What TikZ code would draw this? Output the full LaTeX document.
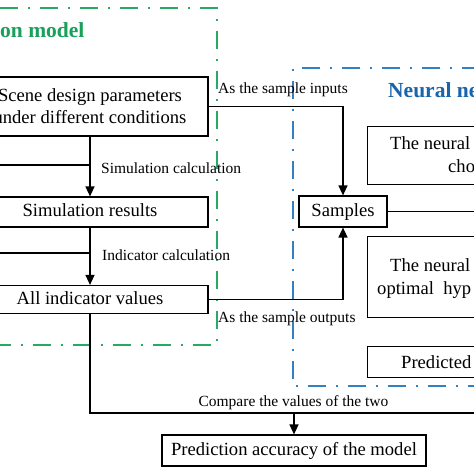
\documentclass[tikz,border=0pt]{standalone}
\usepackage{fontspec}
\setmainfont{Liberation Serif}
\usetikzlibrary{arrows.meta}
\definecolor{gframe}{RGB}{40,170,100}
\definecolor{gtitle}{RGB}{25,160,90}
\definecolor{bframe}{RGB}{50,130,195}
\definecolor{btitle}{RGB}{25,100,170}
\begin{document}
\begin{tikzpicture}[x=1pt,y=-1pt,
  boxbase/.style={draw,line width=1.2pt,inner sep=0pt,font=\fontsize{18.6}{22}\selectfont},
  box/.style={boxbase,text height=13pt,text depth=3.7pt},
  lbl/.style={font=\fontsize{15.5}{18}\selectfont,inner sep=0pt,anchor=base west},
  conn/.style={line width=1.4pt},
  arr/.style={conn,-{Triangle[length=10pt,width=9pt]}},
  frame/.style={line width=2pt,dash pattern=on 18pt off 10pt on 2pt off 10pt},
  ttl/.style={font=\fontsize{21.5}{24}\selectfont\bfseries,inner sep=0pt,anchor=base west},
  rtxt/.style={font=\fontsize{18.6}{22}\selectfont,inner sep=0pt,anchor=base west}]
\useasboundingbox (0,0) rectangle (474,474);
\clip (0,0) rectangle (474,474);
\fill[white] (0,0) rectangle (474,474);
% frames
\draw[frame,gframe] (-40,8) -- (217,8) -- (217,345) -- (-40,345);
\draw[frame,bframe] (520,68) -- (293,68) -- (293,386) -- (520,386);
\node[ttl,text=gtitle] (t1) at (0,37) {on model};
\node[ttl,text=btitle] (t2) at (388,97) {Neural ne};
% left column
\node[boxbase,minimum width=236pt,minimum height=59pt,align=center] (scene) at (90,106.5) {Scene design parameters\\under different conditions};
\node[box,minimum width=236pt,minimum height=30pt] (res) at (90,212) {Simulation results};
\node[box,minimum width=236pt,minimum height=28pt] (ind) at (90,299.5) {All indicator values};
% samples and prediction
\node[box,minimum width=88pt,minimum height=31pt] (samp) at (343,211.5) {Samples};
\node[box,minimum width=264pt,minimum height=31pt] (pred) at (294,450.5) {Prediction accuracy of the model};
% right boxes
\node[box,minimum width=200pt,minimum height=58pt,anchor=north west] (nn1) at (367,126) {};
\node[box,minimum width=200pt,minimum height=81pt,anchor=north west] (nn2) at (367,236) {};
\node[box,minimum width=200pt,minimum height=31pt,anchor=north west] (nn3) at (367,346) {};
\node[rtxt] (nn1a) at (390,149.5) {The neural};
\node[rtxt] (nn1b) at (448,172) {cho};
\node[rtxt] (nn2a) at (390,271) {The neural};
\node[rtxt] (nn2b) at (377,294) {optimal~ hyp};
\node[rtxt] (nn3a) at (401,368) {Predicted};
% connectors
\draw[arr] (scene.south) -- (res.north);
\draw[arr] (res.south) -- (ind.north);
\coordinate (inA) at (-40,165);
\draw[conn] (inA) -- (inA -| scene.south);
\coordinate (inB) at (-40,253);
\draw[conn] (inB) -- (inB -| res.south);
\draw[arr] (scene.east) -| (samp.north);
\draw[arr] (ind.east) -| (samp.south);
\coordinate (sampR) at (500,211.5);
\draw[conn] (samp.east) -- (sampR);
\coordinate (cmpR) at (500,413);
\draw[conn] (ind.south) |- (cmpR);
\draw[arr] (pred.north |- cmpR) -- (pred.north);
% labels
\node[lbl] (l1) at (218,93) {As the sample inputs};
\node[lbl] (l2) at (218,322) {As the sample outputs};
\node[lbl] (l3) at (101,173) {Simulation calculation};
\node[lbl] (l4) at (102,260) {Indicator calculation};
\node[lbl,anchor=base] (l5) at (293.5,406) {Compare the values of the two};
\end{tikzpicture}
\end{document}
